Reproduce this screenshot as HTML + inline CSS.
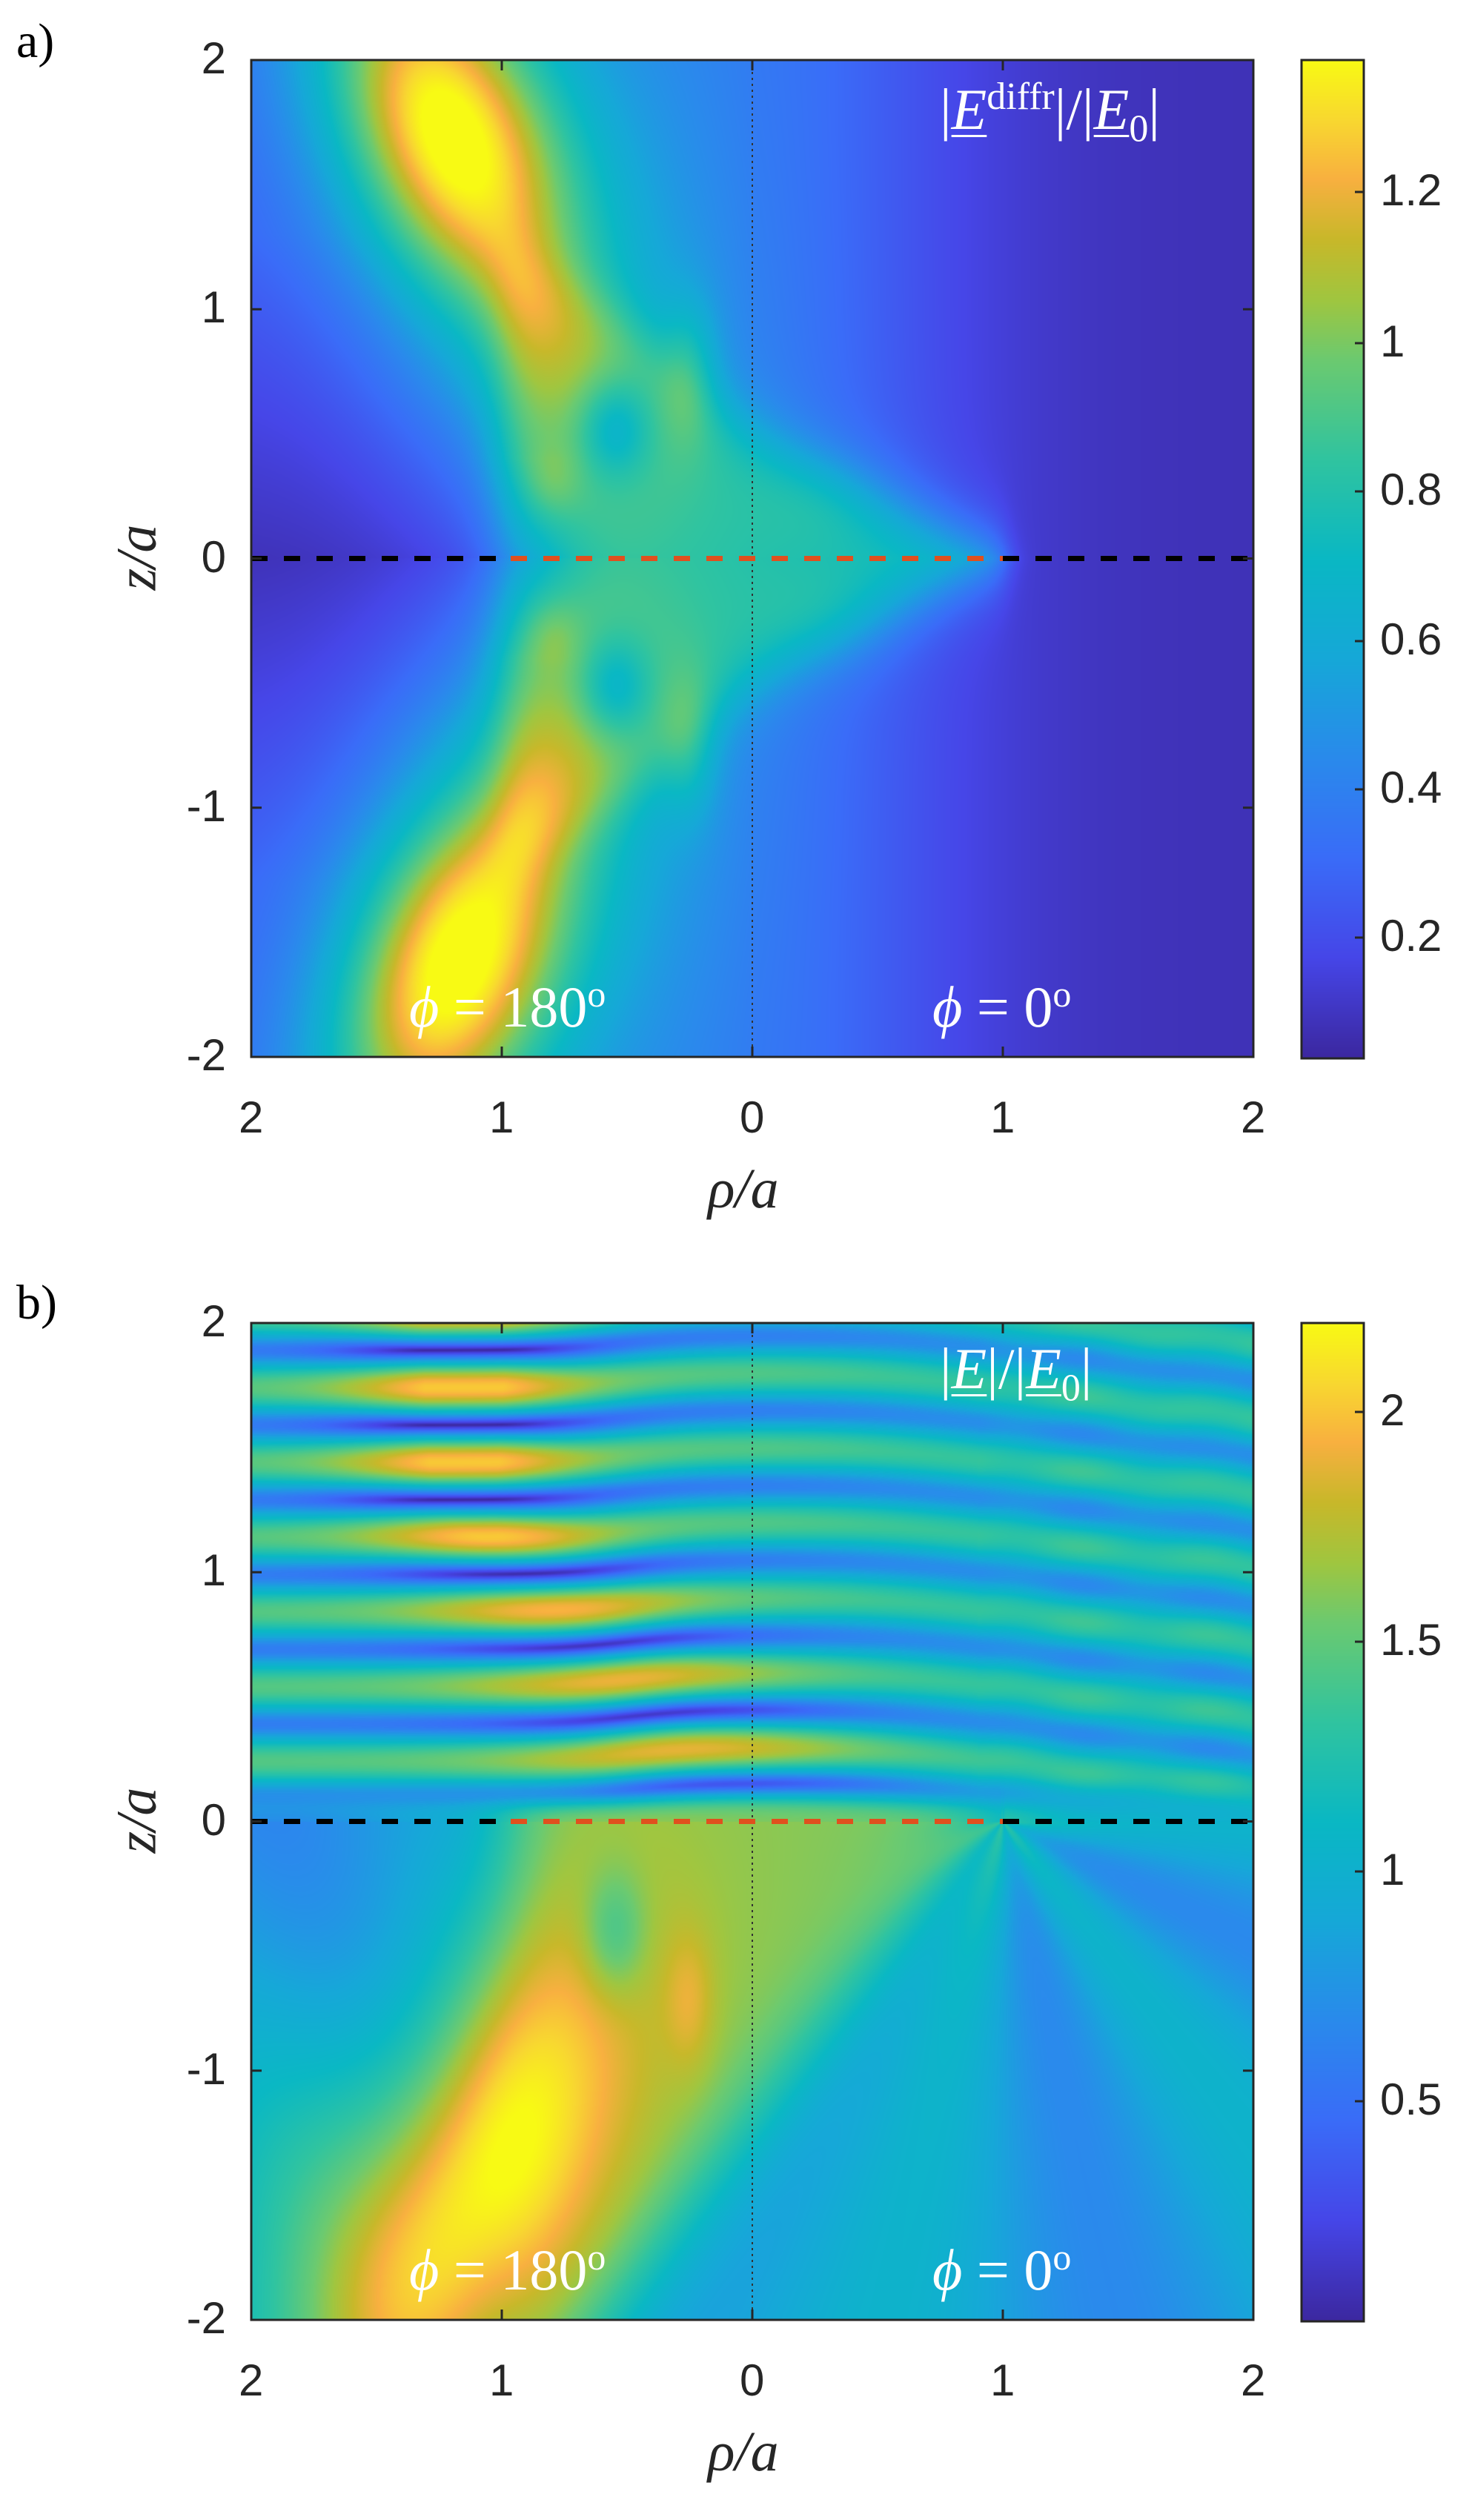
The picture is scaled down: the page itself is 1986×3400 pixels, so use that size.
<!DOCTYPE html>
<html><head><meta charset="utf-8">
<style>
html,body{margin:0;padding:0;background:#fff;}
body{width:1986px;height:3400px;position:relative;overflow:hidden;font-family:"Liberation Sans",sans-serif;}
.abs{position:absolute;}
canvas{position:absolute;}
.tick{position:absolute;font-size:60px;color:#262626;line-height:1;}
.ser{font-family:"Liberation Serif",serif;}
.lbl{position:absolute;font-family:"Liberation Serif",serif;font-style:italic;font-size:76px;color:#262626;line-height:1;white-space:nowrap;}
.ann{position:absolute;font-family:"Liberation Serif",serif;color:#fff;font-size:78px;line-height:1;white-space:nowrap;}
.u{text-decoration:underline;text-decoration-thickness:3px;text-underline-offset:8px;}
</style></head><body>
<div class="abs ser" style="left:22px;top:18px;font-size:66px;">a)</div>
<div class="abs ser" style="left:22px;top:1720px;font-size:66px;">b)</div>

<canvas id="ca" width="1352" height="1345" style="left:339px;top:81px;"></canvas>
<canvas id="cb" width="1352" height="1345" style="left:339px;top:1785px;"></canvas>
<canvas id="cba" width="84" height="1347" style="left:1756px;top:81px;"></canvas>
<canvas id="cbb" width="84" height="1347" style="left:1756px;top:1785px;"></canvas>
<svg class="abs" style="left:0;top:0" width="1986" height="3400" id="ov"></svg>

<div id="txt"></div>

<script>
const cm=[[0,[60,40,160]],[0.1,[70,70,232]],[0.2,[58,108,248]],[0.3,[42,138,236]],[0.4,[22,168,216]],[0.5,[10,184,196]],[0.6,[48,196,160]],[0.7,[108,202,112]],[0.76,[160,198,64]],[0.82,[200,184,42]],[0.88,[248,176,64]],[0.94,[248,216,48]],[1,[248,250,20]]];
function col(t){t=Math.max(0,Math.min(1,t));for(let i=1;i<cm.length;i++){if(t<=cm[i][0]){const a=cm[i-1],b=cm[i];const f=(t-a[0])/(b[0]-a[0]);return [a[1][0]+f*(b[1][0]-a[1][0]),a[1][1]+f*(b[1][1]-a[1][1]),a[1][2]+f*(b[1][2]-a[1][2])];}}return cm[cm.length-1][1];}
const sig=v=>1/(1+Math.exp(-v));
const g=(x,z,cx,cz,sx,sz)=>Math.exp(-((x-cx)*(x-cx))/(2*sx*sx)-((z-cz)*(z-cz))/(2*sz*sz));
function lobe(x,z,cx,cz,dx,dz,ss,st){const n=Math.hypot(dx,dz);dx/=n;dz/=n;const px=x-cx,pz=z-cz;const s=px*dx+pz*dz,t=-px*dz+pz*dx;return Math.exp(-s*s/(2*ss*ss)-t*t/(2*st*st));}
function fa(x,z){
  const az=Math.abs(z);
  let v=0.08+0.28*Math.exp(-(x+0.1)*(x+0.1)/0.8);
  if(x<0){v+=0.16*(Math.min(-x,2)/2)*Math.min(1,az/1.3)+0.08*Math.exp(-(x+0.9)*(x+0.9)/0.4)*Math.min(1,az*1.5);}
  let w=0.48*(1-x)+0.3*sig((-0.3-x)/0.15);
  let m=sig((w-az)/0.09)*sig((x+1.0)/0.06)*sig((1.02-x)/0.03);
  m*=0.55+0.45*sig((x+0.75)/0.08)+0.45*(1-sig((x+0.75)/0.08))*Math.min(1,az*2.5);
  m=Math.min(m,1);
  v=v*(1-m)+0.76*m;
  v-=0.28*g(x,az,-0.55,0.52,0.1,0.14);
  v+=0.2*g(x,az,-0.25,0.78,0.08,0.2);
  v+=0.1*g(x,az,-0.8,0.3,0.08,0.1);
  v+=0.06*g(x,az,0.3,0.25,0.2,0.15);
  const L=z>0?lobe(x,z,-1.22,1.72,-0.4,0.92,0.5,0.27):lobe(x,z,-1.2,-1.65,-0.36,-0.93,0.5,0.27);
  const H=z>0?lobe(x,z,-1.15,1.55,-0.4,0.92,1.0,0.45):lobe(x,z,-1.12,-1.5,-0.36,-0.93,1.0,0.45);
  v+=0.75*L+0.4*H;
  return v;
}
function softplus(v,k){return Math.log(1+Math.exp(v/k))*k;}
function fb(x,z){
  if(z>=0){
    const cx=-1.15+Math.max(0,1.25-z)*0.9;
    const sx=0.33+Math.max(0,1.2-z)*0.2;
    const env=Math.exp(-(x-cx)*(x-cx)/(2*sx*sx));
    const ampBlob=0.62-0.2*sig((1.0-z)/0.2);
    let r=0.3+ampBlob*env+0.12*sig((0.4-x)/0.2);
    r=Math.min(0.97,r)*Math.min(1,0.3+z*4);
    const z0=0.27+0.03*Math.tanh((x+0.5)/0.3)-0.12*softplus(x-0.5,0.15);
    let c=Math.cos(2*Math.PI*(z-z0)/0.3);
    let v=1.02*Math.sqrt(1+r*r+2*r*c);
    if(x>0.9) v+=0.05*Math.cos(x*12)*Math.cos(z*20);
    const f=sig((z-0.06)/0.03);
    const b=fbBot(x,0);
    return v*f+b*(1-f);
  }
  return fbBot(x,z);
}
function fbBot(x,z){
  const az=-z;
  let ang=Math.atan2(az+0.001,x-1);
  let v=0.85+0.18*Math.cos(ang*7);
  let lm=sig((-1-x)/0.15);
  let lv=0.68+0.4*sig((az-0.9)/0.4)+0.08*Math.cos((x+z*0.5)*5);
  v=v*(1-lm)+lv*lm;
  const rb=1-0.8*az;
  let m=sig((x+1.0)/0.1)*sig((rb-x)/0.15);
  v=v*(1-m)+1.6*m;
  v-=0.35*g(x,az,-0.55,0.45,0.09,0.18);
  v+=0.2*g(x,az,-0.25,0.72,0.07,0.2);
  const L=lobe(x,z,-1.12,-1.5,-0.4,-0.92,0.65,0.27);
  const H=lobe(x,z,-1.15,-1.55,-0.4,-0.92,1.0,0.5);
  v+=0.6*L+0.55*H*(1-m*0.6);
  return v;
}
function render(id,f,vmin,vmax){
  const c=document.getElementById(id),ctx=c.getContext('2d');
  const W=c.width,H=c.height,img=ctx.createImageData(W,H),d=img.data;
  for(let j=0;j<H;j++){const z=2-4*(j+0.5)/H;for(let i=0;i<W;i++){const x=-2+4*(i+0.5)/W;const t=(f(x,z)-vmin)/(vmax-vmin);const cc=col(t);const k=(j*W+i)*4;d[k]=cc[0];d[k+1]=cc[1];d[k+2]=cc[2];d[k+3]=255;}}
  ctx.putImageData(img,0,0);
}
function cbar(id){const c=document.getElementById(id),ctx=c.getContext('2d');for(let j=0;j<c.height;j++){const cc=col(1-j/(c.height-1));ctx.fillStyle=`rgb(${cc[0]|0},${cc[1]|0},${cc[2]|0})`;ctx.fillRect(0,j,c.width,1);}}
render('ca',fa,0.038,1.377);
render('cb',fb,0.024,2.19);
cbar('cba');cbar('cbb');

const NS='http://www.w3.org/2000/svg';const ov=document.getElementById('ov');
function el(t,a){const e=document.createElementNS(NS,t);for(const k in a)e.setAttribute(k,a[k]);ov.appendChild(e);return e;}
const txt=document.getElementById('txt');
function div(cls,style,html){const e=document.createElement('div');e.className=cls;e.style.cssText=style;e.innerHTML=html;txt.appendChild(e);}
function panel(top){
  const L=339,R=1691,T=top,B=top+1345,cx=1015,zy=(T+B)/2,u=(B-T)/4,ux=(R-L)/4;
  el('line',{x1:cx,y1:T,x2:cx,y2:B,stroke:'#333',"stroke-width":2,"stroke-dasharray":"3,5"});
  el('line',{x1:L,y1:zy,x2:L+ux,y2:zy,stroke:'#000',"stroke-width":7,"stroke-dasharray":"22,22"});
  el('line',{x1:L+ux+12,y1:zy,x2:R-ux,y2:zy,stroke:'#e0501e',"stroke-width":7,"stroke-dasharray":"22,22"});
  el('line',{x1:R-ux,y1:zy,x2:R,y2:zy,stroke:'#000',"stroke-width":7,"stroke-dasharray":"22,22"});
  el('rect',{x:L,y:T,width:R-L,height:B-T,fill:'none',stroke:'#262626',"stroke-width":3});
  for(let k=0;k<=4;k++){const y=T+k*u,x=L+k*ux;
    el('line',{x1:L,y1:y,x2:L+14,y2:y,stroke:'#262626',"stroke-width":3});
    el('line',{x1:R,y1:y,x2:R-14,y2:y,stroke:'#262626',"stroke-width":3});
    el('line',{x1:x,y1:T,x2:x,y2:T+14,stroke:'#262626',"stroke-width":3});
    el('line',{x1:x,y1:B,x2:x,y2:B-14,stroke:'#262626',"stroke-width":3});
    const zl=['2','1','0','-1','-2'][k];
    div('tick',`right:${1986-305}px;top:${y-32}px;text-align:right;`,zl);
    const xl=['2','1','0','1','2'][k];
    div('tick',`left:${x-17}px;top:${B+52}px;`,xl);
  }
  el('rect',{x:1756,y:T,width:84,height:1347,fill:'none',stroke:'#262626',"stroke-width":3});
  div('lbl',`left:955px;top:${B+140}px;`,'ρ/<span>a</span>');
  div('lbl',`left:140px;top:${zy-40}px;transform:rotate(-90deg);transform-origin:center;`,'z/a');
  div('ann',`left:552px;top:${B-110}px;`,'<i>ϕ</i> = 180<sup style="font-size:50px">o</sup>');
  div('ann',`left:1258px;top:${B-110}px;`,'<i>ϕ</i> = 0<sup style="font-size:50px">o</sup>');
}
panel(81);panel(1785);
function cbt(top,vals){for(const [v,y] of vals){el('line',{x1:1840,y1:y,x2:1828,y2:y,stroke:'#262626',"stroke-width":3});div('tick',`left:1862px;top:${y-32}px;`,v);}}
cbt(81,[['1.2',259],['1',463],['0.8',663],['0.6',865],['0.4',1065],['0.2',1265]]);
cbt(1785,[['2',1905],['1.5',2215],['1',2525],['0.5',2835]]);
div('ann',`left:1268px;top:105px;`,'|<i class="u">E</i><sup style="font-size:52px;font-style:normal">diffr</sup>|/|<i class="u">E</i><sub style="font-size:52px">0</sub>|');
div('ann',`left:1268px;top:1808px;`,'|<i class="u">E</i>|/|<i class="u">E</i><sub style="font-size:52px">0</sub>|');
</script>
</body></html>
